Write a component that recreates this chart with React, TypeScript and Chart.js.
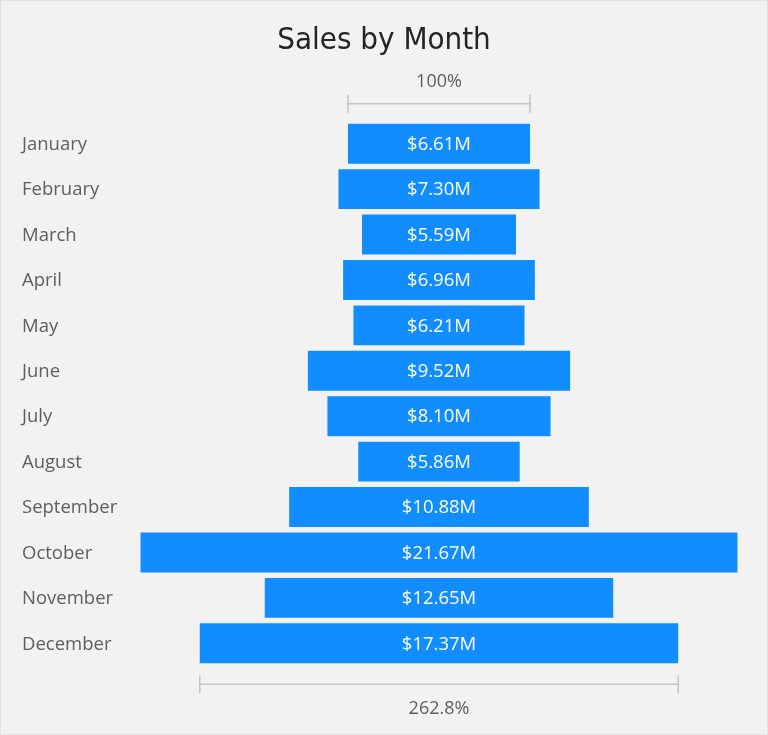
import React, { useEffect, useRef } from "react";
import { Chart, registerables, Plugin } from "chart.js";

Chart.register(...registerables);

// Données du graphique
const months = [
  "January",
  "February",
  "March",
  "April",
  "May",
  "June",
  "July",
  "August",
  "September",
  "October",
  "November",
  "December",
];
const sales = [6.61, 7.3, 5.59, 6.96, 6.21, 9.52, 8.1, 5.86, 10.88, 21.67, 12.65, 17.37];
const chartTitle = "Sales by Month";

const barColor = "#118DFF";
const labelFont = "'Open Sans', 'Noto Sans', sans-serif";

const fmtMoney = (v: number) => `$${v.toFixed(2)}M`;

// Plugin: fond, titre, libellés, crochets du haut et du bas
const funnelPlugin: Plugin<"bar"> = {
  id: "funnelDecor",
  beforeDraw(chart) {
    const { ctx, width, height } = chart;
    ctx.save();
    ctx.fillStyle = "#f2f2f2";
    ctx.fillRect(0, 0, width, height);
    ctx.strokeStyle = "#e2e2e2";
    ctx.lineWidth = 1;
    ctx.strokeRect(0.5, 0.5, width - 1, height - 1);
    ctx.restore();
  },
  afterDatasetsDraw(chart) {
    const { ctx, width } = chart;
    const meta = chart.getDatasetMeta(0);
    ctx.save();

    // titre
    ctx.fillStyle = "#252423";
    ctx.font = "31px 'DejaVu Sans Condensed', sans-serif";
    ctx.textAlign = "center";
    ctx.textBaseline = "middle";
    ctx.fillText(chartTitle, width / 2, 41);

    // libellés des catégories et valeurs
    meta.data.forEach((el: any, i: number) => {
      ctx.fillStyle = "#605e5c";
      ctx.font = `18.5px ${labelFont}`;
      ctx.textAlign = "left";
      ctx.fillText(months[i], 22, el.y + 1);

      ctx.fillStyle = "#ffffff";
      ctx.textAlign = "center";
      ctx.fillText(fmtMoney(sales[i]), (el.base + el.x) / 2, el.y + 1);
    });

    // crochets
    const first: any = meta.data[0];
    const last: any = meta.data[meta.data.length - 1];
    const drawBracket = (x1: number, x2: number, y: number) => {
      ctx.strokeStyle = "#c4c4c4";
      ctx.lineWidth = 1.5;
      ctx.beginPath();
      ctx.moveTo(x1, y);
      ctx.lineTo(x2, y);
      ctx.moveTo(x1, y - 9);
      ctx.lineTo(x1, y + 9);
      ctx.moveTo(x2, y - 9);
      ctx.lineTo(x2, y + 9);
      ctx.stroke();
    };
    const top = first.y - first.height / 2;
    drawBracket(first.base, first.x, top - 20);
    ctx.fillStyle = "#605e5c";
    ctx.font = `18px ${labelFont}`;
    ctx.textAlign = "center";
    ctx.fillText("100%", (first.base + first.x) / 2, top - 42);

    const bottom = last.y + last.height / 2;
    drawBracket(last.base, last.x, bottom + 21);
    const pct = (sales[sales.length - 1] / sales[0]) * 100;
    ctx.fillStyle = "#605e5c";
    ctx.fillText(`${pct.toFixed(1)}%`, (last.base + last.x) / 2, bottom + 46);

    ctx.restore();
  },
};

const App = () => {
  const chartRef = useRef<HTMLCanvasElement>(null);

  useEffect(() => {
    document.body.style.margin = "0";
    if (!chartRef.current) return;

    const chart = new Chart(chartRef.current, {
      type: "bar",
      data: {
        labels: months,
        datasets: [
          {
            data: sales.map((v) => [-v / 2, v / 2]) as any,
            backgroundColor: barColor,
            borderWidth: 0,
            categoryPercentage: 1,
            barPercentage: 0.88,
          },
        ],
      },
      options: {
        animation: false,
        responsive: false,
        indexAxis: "y",
        layout: { padding: { left: 128, right: 18, top: 121, bottom: 69 } },
        scales: {
          x: { display: false, min: -11.29, max: 11.29 },
          y: { display: false },
        },
        plugins: {
          legend: { display: false },
          tooltip: { enabled: false },
        },
      },
      plugins: [funnelPlugin],
    });

    return () => {
      chart.destroy();
    };
  }, []);

  return (
    <div style={{ width: 768, height: 735 }}>
      <canvas ref={chartRef} width={768} height={735} />
    </div>
  );
};

export default App;
